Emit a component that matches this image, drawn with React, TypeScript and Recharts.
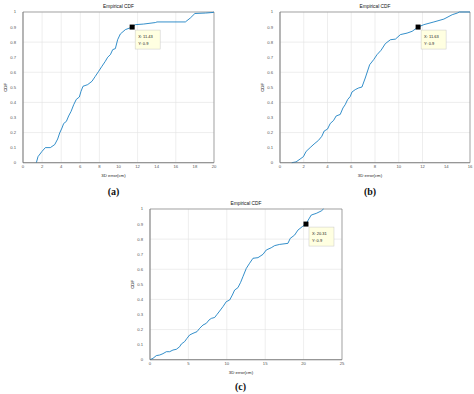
import { CartesianGrid, Label, Line, LineChart, ReferenceArea, ReferenceDot, XAxis, YAxis } from "recharts";

// panel (a)
const errA = [1.4, 1.57, 1.99, 2.34, 2.86, 3.32, 3.63, 3.84, 4.08, 4.26, 4.54, 4.78, 5.03, 5.31, 5.58, 5.9, 6.07, 6.28, 6.77, 7.22, 7.57, 7.92, 8.27, 8.62, 8.87, 9.15, 9.39, 9.67, 9.91, 10.19, 10.72, 11.43, 11.76, 12.63, 13.86, 14.03, 17.0, 17.52, 18.0, 19.1, 19.9, 20];
const cdfA = [0, 0.04, 0.075, 0.1, 0.1, 0.12, 0.157, 0.197, 0.23, 0.26, 0.274, 0.31, 0.34, 0.385, 0.42, 0.436, 0.473, 0.507, 0.518, 0.54, 0.573, 0.606, 0.64, 0.673, 0.7, 0.717, 0.75, 0.757, 0.816, 0.854, 0.883, 0.9, 0.916, 0.92, 0.93, 0.934, 0.934, 0.96, 0.99, 0.993, 0.997, 1];
const ticksA = [0, 2, 4, 6, 8, 10, 12, 14, 16, 18, 20];
const tipA = { x: 11.43, y: 0.9 };

// panel (b)
const errB = [0.99, 1.35, 1.69, 1.97, 2.2, 2.54, 2.87, 3.24, 3.52, 3.72, 4.0, 4.23, 4.51, 4.73, 5.07, 5.3, 5.49, 5.69, 5.92, 6.06, 6.34, 6.62, 6.9, 7.18, 7.55, 7.89, 8.17, 8.51, 8.87, 9.3, 9.72, 10.14, 10.7, 11.13, 11.63, 12.11, 12.96, 13.8, 14.5, 14.93, 15.1, 16];
const cdfB = [0, 0.005, 0.024, 0.04, 0.075, 0.1, 0.124, 0.148, 0.175, 0.21, 0.223, 0.26, 0.28, 0.31, 0.32, 0.363, 0.385, 0.418, 0.44, 0.469, 0.485, 0.496, 0.502, 0.562, 0.65, 0.684, 0.717, 0.746, 0.79, 0.816, 0.82, 0.85, 0.86, 0.872, 0.9, 0.916, 0.934, 0.953, 0.982, 0.993, 1, 1];
const ticksB = [0, 2, 4, 6, 8, 10, 12, 14, 16];
const tipB = { x: 11.63, y: 0.9 };

// panel (c)
const errC = [0, 0.39, 0.82, 1.26, 1.69, 2.13, 2.56, 2.99, 3.43, 3.86, 4.08, 4.51, 4.82, 5.16, 5.6, 6.12, 6.46, 6.9, 7.33, 7.68, 7.98, 8.42, 8.72, 9.07, 9.5, 9.93, 10.37, 10.72, 11.02, 11.45, 11.8, 12.1, 12.54, 12.97, 13.41, 14.06, 14.71, 15.14, 15.79, 16.23, 16.88, 17.96, 18.26, 18.83, 19.26, 19.83, 20.31, 20.69, 21.0, 21.65, 22.3, 22.6];
const cdfC = [0, 0.009, 0.027, 0.031, 0.04, 0.053, 0.053, 0.064, 0.069, 0.086, 0.104, 0.12, 0.142, 0.164, 0.175, 0.186, 0.208, 0.23, 0.241, 0.263, 0.274, 0.28, 0.3, 0.323, 0.352, 0.385, 0.396, 0.429, 0.462, 0.478, 0.513, 0.551, 0.606, 0.64, 0.673, 0.677, 0.699, 0.728, 0.743, 0.757, 0.765, 0.772, 0.805, 0.827, 0.86, 0.883, 0.9, 0.934, 0.96, 0.971, 0.987, 1];
const ticksC = [0, 5, 10, 15, 20, 25];
const tipC = { x: 20.31, y: 0.9 };

const cdfTicks = [0, 0.1, 0.2, 0.3, 0.4, 0.5, 0.6, 0.7, 0.8, 0.9, 1];

const font = "'Liberation Sans', Arial, sans-serif";
const tickStyle = { fontSize: 4.2, fill: "#555", fontFamily: font };

function Tip(props: any) {
    const { cx, cy, tip } = props;
    return (
        <g>
            <rect x={cx + 3} y={cy + 3} width={25} height={19} fill="#ffffe1" stroke="#c8c8c8" strokeWidth={0.5} />
            <text x={cx + 6} y={cy + 9} fontSize={4} fontFamily={font} fill="#222" dominantBaseline="central">X: {tip.x}</text>
            <text x={cx + 6} y={cy + 16} fontSize={4} fontFamily={font} fill="#222" dominantBaseline="central">Y: {tip.y}</text>
            <rect x={cx - 2.5} y={cy - 2.5} width={5} height={5} fill="#000" />
        </g>
    );
}

function CdfPanel(props: { left: number; top: number; w: number; h: number; err: number[]; cdf: number[]; ticks: number[]; tip: { x: number; y: number } }) {
    const { left, top, w, h, err, cdf, ticks, tip } = props;
    const data = err.map((x, i) => ({ x, y: cdf[i] }));
    const xMax = ticks[ticks.length - 1];
    return (
        <div style={{ position: "absolute", left: left - 30, top: top - 12 }}>
            <LineChart width={w + 34} height={h + 32} data={data} margin={{ top: 12, right: 4, left: 0, bottom: 0 }}>
                <CartesianGrid stroke="#e3e3e3" strokeWidth={0.6} />
                <XAxis
                    type="number"
                    dataKey="x"
                    domain={[0, xMax]}
                    ticks={ticks}
                    height={20}
                    tickLine={false}
                    tickSize={0}
                    tickMargin={2.5}
                    axisLine={{ stroke: "#777", strokeWidth: 0.6 }}
                    tick={tickStyle}
                >
                    <Label
                        content={({ viewBox }: any) => (
                            <text x={viewBox.x + viewBox.width / 2 - 5} y={viewBox.y + 13} textAnchor="middle" dominantBaseline="central" fontSize={4.3} fontFamily={font} fill="#222">
                                3D error(cm)
                            </text>
                        )}
                    />
                </XAxis>
                <YAxis
                    type="number"
                    domain={[0, 1]}
                    ticks={cdfTicks}
                    width={30}
                    tickLine={false}
                    tickSize={0}
                    tickMargin={7}
                    axisLine={{ stroke: "#777", strokeWidth: 0.6 }}
                    tick={tickStyle}
                    tickFormatter={(v) => `${v}`}
                >
                    <Label
                        content={({ viewBox }: any) => {
                            const x = viewBox.x + 12;
                            const y = viewBox.y + viewBox.height / 2;
                            return (
                                <text x={x} y={y} transform={`rotate(-90 ${x} ${y})`} textAnchor="middle" dominantBaseline="central" fontSize={4.3} fontFamily={font} fill="#222">
                                    CDF
                                </text>
                            );
                        }}
                    />
                </YAxis>
                <ReferenceArea
                    x1={0}
                    x2={xMax}
                    y1={0}
                    y2={1}
                    fill="none"
                    stroke="#777"
                    strokeWidth={0.6}
                    label={{ value: "Empirical CDF", position: "top", offset: 4, fontSize: 4.8, fill: "#111", fontFamily: font }}
                />
                <Line type="linear" dataKey="y" stroke="#0072bd" strokeWidth={0.8} dot={false} isAnimationActive={false} />
                <ReferenceDot x={tip.x} y={tip.y} shape={(p: any) => <Tip {...p} tip={tip} />} />
            </LineChart>
        </div>
    );
}

const captionStyle = {
    position: "absolute" as const,
    fontFamily: "'Liberation Serif', 'Times New Roman', serif",
    fontWeight: 700,
    fontSize: 10,
    lineHeight: "10px",
    color: "#111",
    transform: "translate(-50%, -50%)",
};

export default function App() {
    return (
        <div style={{ position: "absolute", left: 0, top: 0, width: 474, height: 394, background: "#fff", overflow: "hidden" }}>
            <CdfPanel left={22.7} top={12.3} w={191} h={150.7} err={errA} cdf={cdfA} ticks={ticksA} tip={tipA} />
            <CdfPanel left={280} top={12.3} w={190} h={150.7} err={errB} cdf={cdfB} ticks={ticksB} tip={tipB} />
            <CdfPanel left={150.3} top={209} w={192} h={150.7} err={errC} cdf={cdfC} ticks={ticksC} tip={tipC} />
            <div style={{ ...captionStyle, left: 113.5, top: 191.7 }}>(a)</div>
            <div style={{ ...captionStyle, left: 370, top: 191.7 }}>(b)</div>
            <div style={{ ...captionStyle, left: 240.5, top: 386.7 }}>(c)</div>
        </div>
    );
}
